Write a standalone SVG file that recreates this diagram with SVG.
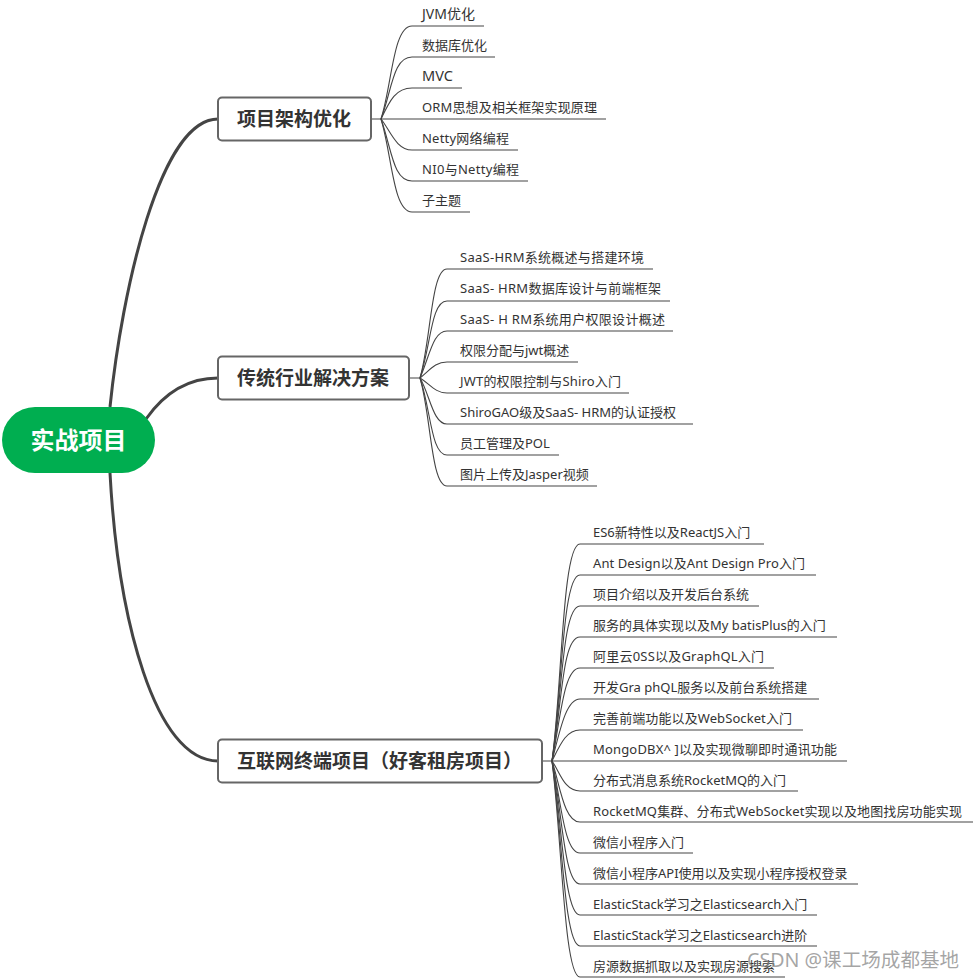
<svg xmlns="http://www.w3.org/2000/svg" width="973" height="979" viewBox="0 0 973 979">
<style>
text{font-family:"Noto Sans","Noto Sans CJK SC",sans-serif;white-space:pre}
.leaf{font-size:13px;fill:#333}
.box{fill:#fff;stroke:#666;stroke-width:2}
.lbl{font-size:19px;font-weight:700;fill:#333;text-anchor:middle}
.main{fill:none;stroke:#444;stroke-width:3}
.thin{fill:none;stroke:#444;stroke-width:1.1}
</style>
<rect width="973" height="979" fill="#fff"/>
<g id="connectors">
<g class="main">
<path class="main" d="M110 407C122 290 160 119 218 119"/>
<path class="main" d="M146 419C165 392 190 378 218 378"/>
<path class="main" d="M110 473C118 620 155 761 218 761"/>
</g>
<g class="thin">
<path class="thin" d="M381 119C392 85 393 26 412 26H484"/>
<path class="thin" d="M381 119C392 90 393 57 412 57H495"/>
<path class="thin" d="M381 119C390 100 396 88 412 88H462"/>
<path class="thin" d="M371 119H606"/>
<path class="thin" d="M381 119C390 130 396 150 412 150H518"/>
<path class="thin" d="M381 119C392 150 393 181 412 181H528"/>
<path class="thin" d="M381 119C392 155 393 212 412 212H470"/>
<path class="thin" d="M420 378C431 340 431 269 447 269H653"/>
<path class="thin" d="M420 378C431 345 431 301 447 301H670"/>
<path class="thin" d="M420 378C430 355 433 331 447 331H673"/>
<path class="thin" d="M420 378C430 370 435 362 447 362H578"/>
<path class="thin" d="M409 378H420C430 384 435 393 447 393H629"/>
<path class="thin" d="M420 378C430 395 433 424 447 424H693"/>
<path class="thin" d="M420 378C431 410 431 455 447 455H559"/>
<path class="thin" d="M420 378C431 415 431 486 447 486H597"/>
<path class="thin" d="M552 761C562 690 562 544 580 544H764"/>
<path class="thin" d="M552 761C562 695 562 575 580 575H816"/>
<path class="thin" d="M552 761C562 700 562 606 580 606H759"/>
<path class="thin" d="M552 761C562 705 562 637 580 637H837"/>
<path class="thin" d="M552 761C561 715 564 668 580 668H774"/>
<path class="thin" d="M552 761C560 730 566 699 580 699H819"/>
<path class="thin" d="M552 761C560 745 566 730 580 730H803"/>
<path class="thin" d="M542 761H847"/>
<path class="thin" d="M552 761C560 772 564 791 580 791H798"/>
<path class="thin" d="M552 761C560 785 564 822 580 822H973"/>
<path class="thin" d="M552 761C561 800 564 853 580 853H693"/>
<path class="thin" d="M552 761C562 810 564 884 580 884H858"/>
<path class="thin" d="M552 761C562 820 564 915 580 915H817"/>
<path class="thin" d="M552 761C562 830 564 946 580 946H817"/>
<path class="thin" d="M552 761C562 840 564 977 580 977H785"/>
</g>
</g>
<g id="root"><rect x="2" y="407" width="153" height="66" rx="33" fill="#00ae50"/><text x="78.500" y="449" font-size="24" font-weight="700" fill="#fff" text-anchor="middle">实战项目</text></g>
<g id="n1"><rect class="box" x="218" y="97.500" width="153" height="43" rx="4"/><text class="lbl" x="294" y="125.500">项目架构优化</text></g>
<g id="n2"><rect class="box" x="218" y="356.500" width="191" height="43" rx="4"/><text class="lbl" x="313" y="384.500">传统行业解决方案</text></g>
<g id="n3"><rect class="box" x="218" y="739.500" width="324" height="43" rx="4"/><text class="lbl" x="379.500" y="767.500">互联网终端项目（好客租房项目）</text></g>
<g id="leaves1">
<text class="leaf" x="422" y="18.500" style="font-size:14px">JVM优化</text>
<text class="leaf" x="422" y="49.500">数据库优化</text>
<text class="leaf" x="422" y="81" style="font-size:14.500px">MVC</text>
<text class="leaf" x="422" y="112" textLength="175">ORM思想及相关框架实现原理</text>
<text class="leaf" x="422" y="143" textLength="87">Netty网络编程</text>
<text class="leaf" x="422" y="174" textLength="97">NI0与Netty编程</text>
<text class="leaf" x="422" y="205">子主题</text>
</g>
<g id="leaves2">
<text class="leaf" x="460" y="262" textLength="184">SaaS-HRM系统概述与搭建环境</text>
<text class="leaf" x="460" y="293" textLength="201">SaaS- HRM数据库设计与前端框架</text>
<text class="leaf" x="460" y="324" textLength="205">SaaS- H RM系统用户权限设计概述</text>
<text class="leaf" x="460" y="355">权限分配与jwt概述</text>
<text class="leaf" x="460" y="386" textLength="161">JWT的权限控制与Shiro入门</text>
<text class="leaf" x="460" y="417">ShiroGAO级及SaaS- HRM的认证授权</text>
<text class="leaf" x="460" y="448">员工管理及POL</text>
<text class="leaf" x="460" y="479">图片上传及Jasper视频</text>
</g>
<g id="leaves3">
<text class="leaf" x="593" y="537">ES6新特性以及ReactJS入门</text>
<text class="leaf" x="593" y="568" textLength="212">Ant Design以及Ant Design Pro入门</text>
<text class="leaf" x="593" y="599">项目介绍以及开发后台系统</text>
<text class="leaf" x="593" y="630">服务的具体实现以及My batisPlus的入门</text>
<text class="leaf" x="593" y="661" textLength="171">阿里云0SS以及GraphQL入门</text>
<text class="leaf" x="593" y="692">开发Gra phQL服务以及前台系统搭建</text>
<text class="leaf" x="593" y="723" textLength="199">完善前端功能以及WebSocket入门</text>
<text class="leaf" x="593" y="754" textLength="244">MongoDBX^ ]以及实现微聊即时通讯功能</text>
<text class="leaf" x="593" y="785">分布式消息系统RocketMQ的入门</text>
<text class="leaf" x="593" y="816" textLength="369">RocketMQ集群、分布式WebSocket实现以及地图找房功能实现</text>
<text class="leaf" x="593" y="847">微信小程序入门</text>
<text class="leaf" x="593" y="878">微信小程序API使用以及实现小程序授权登录</text>
<text class="leaf" x="593" y="909">ElasticStack学习之Elasticsearch入门</text>
<text class="leaf" x="593" y="940">ElasticStack学习之Elasticsearch进阶</text>
<text class="leaf" x="593" y="971">房源数据抓取以及实现房源搜索</text>
</g>
<text x="747" y="967" font-size="19.600" fill="#888" fill-opacity=".75">CSDN @课工场成都基地</text>
</svg>
